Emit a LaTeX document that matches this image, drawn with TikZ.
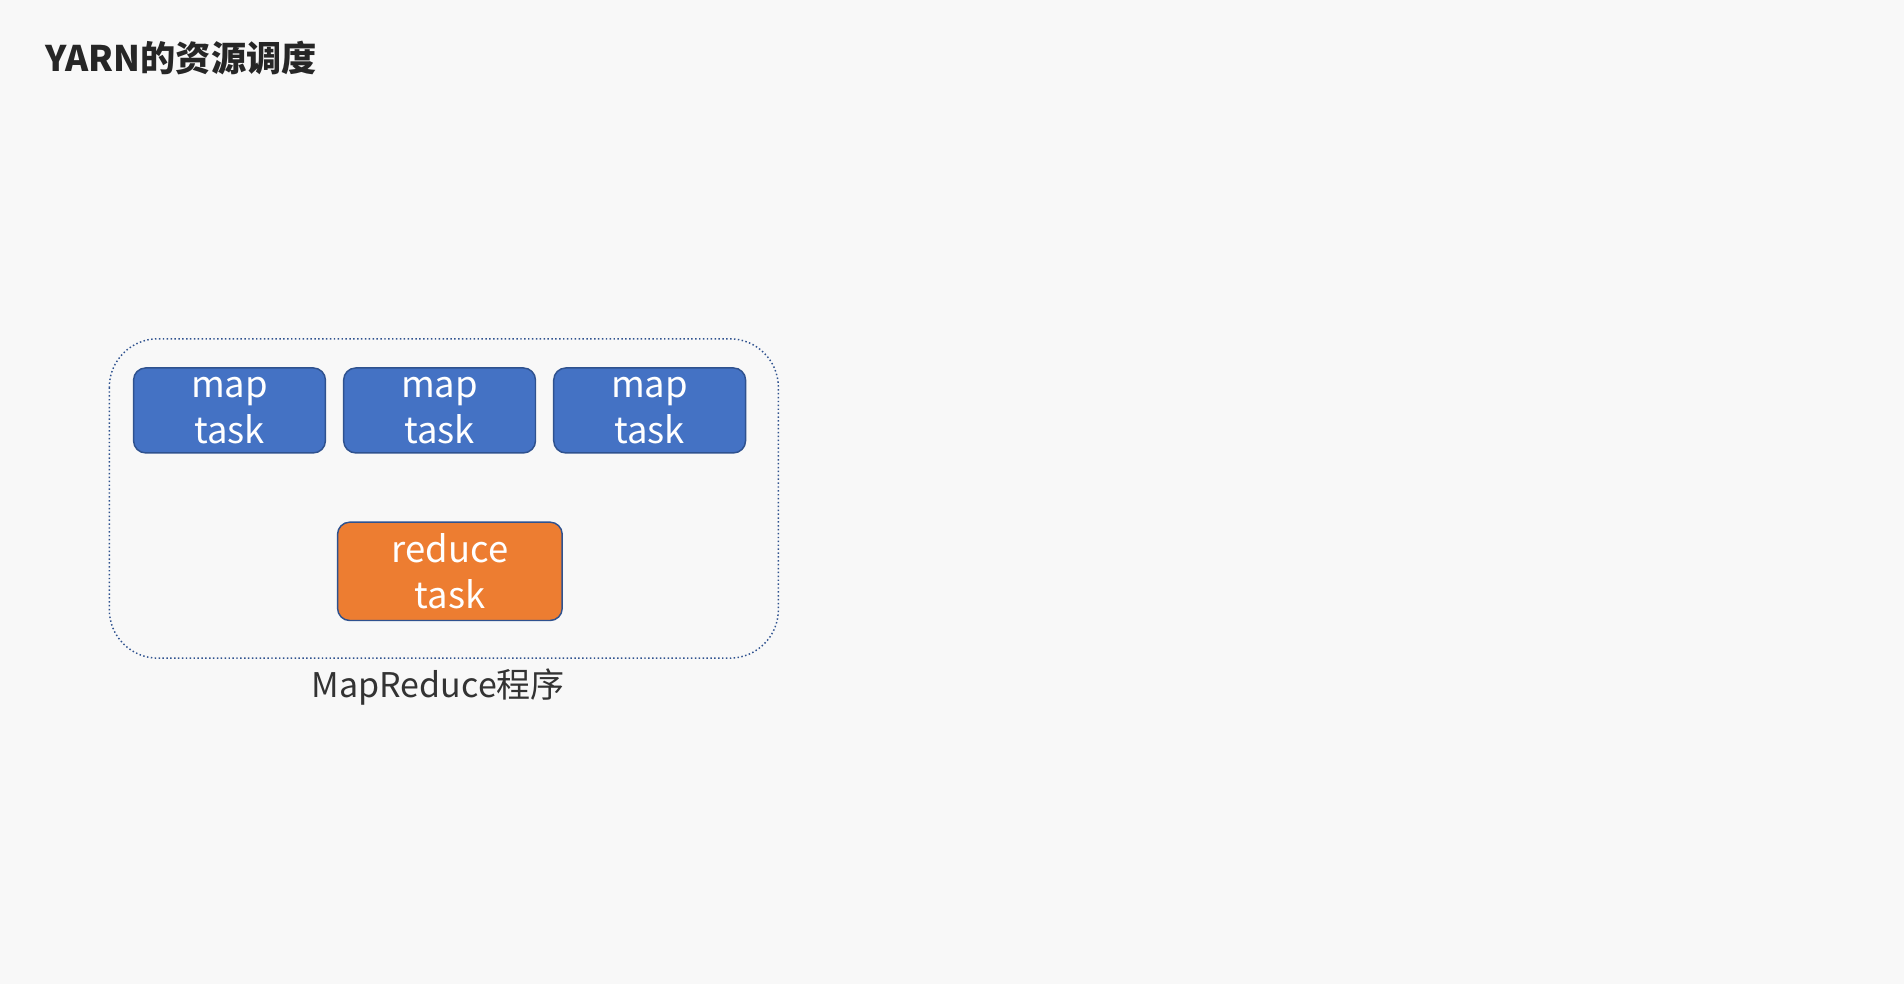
\documentclass[tikz,border=0pt]{standalone}
\usepackage{fontspec}
\setmainfont{Noto Sans CJK SC}
\definecolor{bg}{HTML}{F8F8F8}
\definecolor{bl}{HTML}{4472C4}
\definecolor{bd}{HTML}{2F528F}
\definecolor{og}{HTML}{ED7D31}
\definecolor{tx}{HTML}{333333}
\begin{document}
\begin{tikzpicture}[x=0.5pt,y=-0.5pt,
  taskbox/.style={draw=bd,line width=0.6pt,rounded corners=5pt,text=white,align=center,inner sep=0pt,font=\fontsize{15}{19}\selectfont}]
\fill[bg] (0,0) rectangle (1568,810);
\useasboundingbox (0,0) rectangle (1568,810);
\node[anchor=west,font=\fontsize{14.5}{17}\selectfont\bfseries,text=black!85] (title) at (30,48) {YARN的资源调度};
\draw[bd,densely dotted,line width=0.6pt,rounded corners=20pt] (90,279) rectangle (641,542);
\node[taskbox,fill=bl,minimum width=79pt,minimum height=35pt] (m1) at (189,338) {map\\task};
\node[taskbox,fill=bl,minimum width=79pt,minimum height=35pt] (m2) at (362,338) {map\\task};
\node[taskbox,fill=bl,minimum width=79pt,minimum height=35pt] (m3) at (535,338) {map\\task};
\node[taskbox,fill=og,minimum width=92.5pt,minimum height=40.5pt] (r) at (370.5,470.5) {reduce\\task};
\node[text=tx,font=\fontsize{14}{17}\selectfont] (lbl) at (361,566) {MapReduce程序};
\end{tikzpicture}
\end{document}
